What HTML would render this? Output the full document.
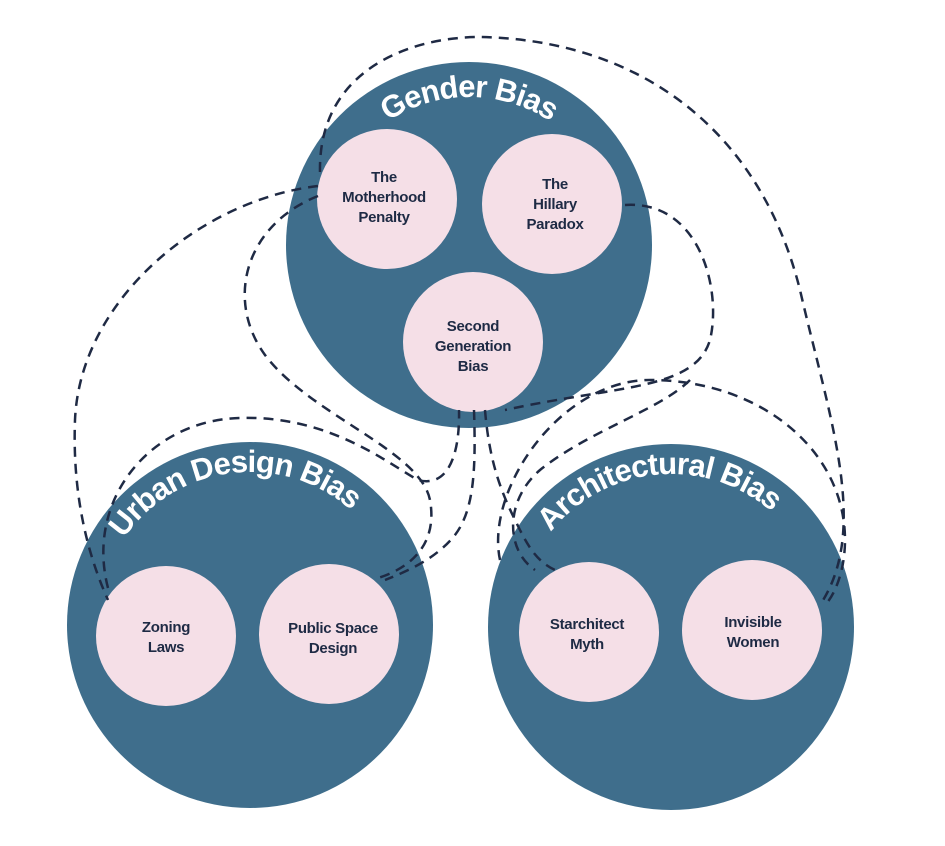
<!DOCTYPE html>
<html><head><meta charset="utf-8"><style>
html,body{margin:0;padding:0;background:#fff;}
svg{display:block;}
.t{font-family:"Liberation Sans",sans-serif;font-weight:bold;font-size:15px;fill:#1e2a44;text-anchor:middle;letter-spacing:-0.3px;}
.h{font-family:"Liberation Sans",sans-serif;font-weight:bold;font-size:31px;fill:#fff;text-anchor:middle;letter-spacing:-1px;}
.d{fill:none;stroke:#1f2a44;stroke-width:2.5;stroke-dasharray:10 7;}
</style></head><body>
<svg width="945" height="846" viewBox="0 0 945 846" xmlns="http://www.w3.org/2000/svg">
<defs>
<path id="a1" d="M321,245 A148,148 0 0 1 617,245"/>
<path id="a2" d="M97,625 A153,153 0 0 1 403,625"/>
<path id="a3" d="M518,627 A153,153 0 0 1 824,627"/>
</defs>
<circle cx="469" cy="245" r="183" fill="#3f6e8c"/>
<circle cx="250" cy="625" r="183" fill="#3f6e8c"/>
<circle cx="671" cy="627" r="183" fill="#3f6e8c"/>
<text class="h"><textPath href="#a1" startOffset="50%">Gender Bias</textPath></text>
<text class="h"><textPath href="#a2" startOffset="46%">Urban Design Bias</textPath></text>
<text class="h"><textPath href="#a3" startOffset="47%">Architectural Bias</textPath></text>
<circle cx="387" cy="199" r="70" fill="#f5dfe7"/>
<circle cx="552" cy="204" r="70" fill="#f5dfe7"/>
<circle cx="473" cy="342" r="70" fill="#f5dfe7"/>
<circle cx="166" cy="636" r="70" fill="#f5dfe7"/>
<circle cx="329" cy="634" r="70" fill="#f5dfe7"/>
<circle cx="589" cy="632" r="70" fill="#f5dfe7"/>
<circle cx="752" cy="630" r="70" fill="#f5dfe7"/>
<text class="t"><tspan x="384" y="182">The</tspan><tspan x="384" y="202">Motherhood</tspan><tspan x="384" y="222">Penalty</tspan></text>
<text class="t"><tspan x="555" y="189">The</tspan><tspan x="555" y="209">Hillary</tspan><tspan x="555" y="229">Paradox</tspan></text>
<text class="t"><tspan x="473" y="331">Second</tspan><tspan x="473" y="351">Generation</tspan><tspan x="473" y="371">Bias</tspan></text>
<text class="t"><tspan x="166" y="632">Zoning</tspan><tspan x="166" y="652">Laws</tspan></text>
<text class="t"><tspan x="333" y="633">Public Space</tspan><tspan x="333" y="653">Design</tspan></text>
<text class="t"><tspan x="587" y="629">Starchitect</tspan><tspan x="587" y="649">Myth</tspan></text>
<text class="t"><tspan x="753" y="627">Invisible</tspan><tspan x="753" y="647">Women</tspan></text>
<path class="d" d="M320,172 C318,70 410,37 480,37 C640,40 760,130 800,290 C830,420 870,530 820,605"/>
<path class="d" d="M318,186 C200,200 80,300 75,420 C72,500 90,560 108,600"/>
<path class="d" d="M318,196 C245,225 225,300 265,355 C310,415 420,450 430,500 C438,545 410,568 378,578"/>
<path class="d" d="M108,588 C85,500 150,420 240,418 C330,415 390,465 418,480 C448,488 460,455 459,410"/>
<path class="d" d="M474,410 C476,470 474,510 455,535 C435,560 405,572 385,580"/>
<path class="d" d="M485,410 C490,470 505,500 520,530 C530,550 540,565 560,572"/>
<path class="d" d="M625,205 C700,200 722,290 710,340 C695,390 620,385 505,410"/>
<path class="d" d="M690,380 C660,410 590,430 540,470 C505,500 505,550 535,570"/>
<path class="d" d="M500,560 C485,490 560,380 650,380 C760,380 845,450 845,540 C845,570 835,595 825,605"/>
</svg>
</body></html>
